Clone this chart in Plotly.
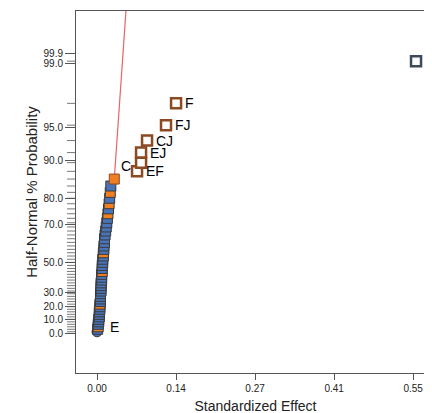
import plotly.graph_objects as go
from statistics import NormalDist

nd = NormalDist()
def z(p):  # half-normal scale
    return nd.inv_cdf((1 + p / 100.0) / 2) if p > 0 else 0.0

cluster_x = [0.000,0.001,0.002,0.002,0.003,0.003,0.004,0.004,0.004,0.005,0.005,0.005,
             0.006,0.006,0.006,0.006,0.007,0.007,0.007,0.007,0.008,0.008,0.008,0.009,
             0.009,0.009,0.010,0.010,0.011,0.011,0.012,0.012,0.013,0.013,0.014,0.015,
             0.016,0.017,0.018,0.019,0.020,0.021,0.022,0.023,0.024]
cluster_orange = {2, 11, 23, 29, 39, 41, 43}
big_x = [0.030, 0.0696, 0.0766, 0.0766, 0.087, 0.120, 0.1375, 0.555]
big_labels = ["", "EF", "C", "EJ", "CJ", "FJ", "F", "J"]
n = len(cluster_x) + len(big_x)
probs = [(i - 0.5) / n * 100 for i in range(1, n + 1)]
zs = [z(p) for p in probs]

ytick_labels = ["0.0", "10.0", "20.0", "30.0", "50.0", "70.0", "80.0", "90.0", "95.0", "99.0", "99.9"]
ytick_probs = [0, 10, 20, 30, 50, 70, 80, 90, 95, 99, 99.25]
xtick_vals = [0, 0.1375, 0.275, 0.4125, 0.55]
xtick_labels = ["0.00", "0.14", "0.27", "0.41", "0.55"]
line_x = [0.030, 0.0505]
line_p = [probs[len(cluster_x)], 99.8]

BLUE, ORANGE, BROWN = "#4a74b8", "#f07f22", "#8b4a22"
fig = go.Figure()
nc = len(cluster_x)
cols = [ORANGE if i in cluster_orange else BLUE for i in range(nc)]
syms = ["circle"] + ["square"] * (nc - 1)
fig.add_trace(go.Scatter(x=cluster_x, y=zs[:nc], mode="markers",
    marker=dict(symbol=syms, size=10, color=cols, line=dict(color="#3a3a3a", width=1))))
fig.add_trace(go.Scatter(x=[line_x[0], line_x[1]], y=[z(line_p[0]), z(line_p[1])], mode="lines",
    line=dict(color="#e8646a", width=1.2)))
fig.add_trace(go.Scatter(x=big_x[:1], y=zs[nc:nc+1], mode="markers",
    marker=dict(symbol="square", size=10, color=ORANGE, line=dict(color=BROWN, width=1))))
fig.add_trace(go.Scatter(x=big_x[1:7], y=zs[nc+1:nc+7], mode="markers",
    marker=dict(symbol="square", size=10, color="white", line=dict(color=BROWN, width=2.5))))
fig.add_trace(go.Scatter(x=big_x[7:], y=zs[nc+7:], mode="markers",
    marker=dict(symbol="square", size=10, color="white", line=dict(color="#3c4a5c", width=2.5))))

F = "Liberation Sans, Arial, sans-serif"
for i, lab in enumerate(big_labels):
    if not lab:
        continue
    left = lab == "C"
    fig.add_annotation(x=big_x[i], y=zs[nc + i], text=lab, showarrow=False,
        xanchor="right" if left else "left", xshift=-8 if left else 7, yshift=-3 if left else 0,
        font=dict(size=14, color="black", family=F))
fig.add_annotation(x=cluster_x[2], y=zs[2], text="E", showarrow=False, xanchor="left",
    xshift=10, font=dict(size=14, color="black", family=F))

shapes = [dict(type="line", xref="paper", yref="y", x0=-0.025, x1=0, y0=v, y1=v,
               line=dict(color="#555", width=0.8)) for v in zs]
fig.update_layout(
    width=432, height=413, margin=dict(l=68, r=5, t=3, b=48),
    plot_bgcolor="white", paper_bgcolor="white", showlegend=False, shapes=shapes,
    font=dict(family=F, color="#222"),
    xaxis=dict(range=[-0.0366, 0.588], tickvals=xtick_vals, ticktext=xtick_labels, automargin=False,
               ticks="outside", ticklen=6, tickcolor="#555", showgrid=False, zeroline=False,
               showline=True, linecolor="#555", mirror=True, tickfont=dict(size=10),
               title=dict(text="Standardized Effect", font=dict(size=14), standoff=8)),
    yaxis=dict(range=[-0.382, 3.075], tickvals=[z(p) for p in ytick_probs], ticktext=ytick_labels,
               automargin=False,
               ticks="outside", ticklen=10, tickcolor="#555", showgrid=False, zeroline=False,
               showline=True, linecolor="#555", mirror=True, tickfont=dict(size=10),
               title=dict(text="Half-Normal % Probability", font=dict(size=15), standoff=2)),
)
fig.write_html("out.html")
